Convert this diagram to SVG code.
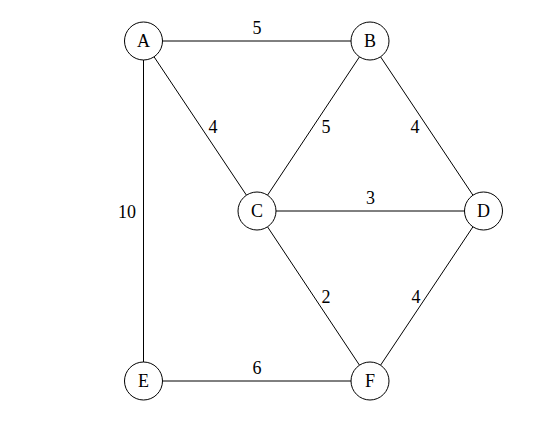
<svg xmlns="http://www.w3.org/2000/svg" width="558" height="424" viewBox="0 0 558 424">
<style>
.edge{stroke:#000;stroke-width:1;fill:none}
.node circle{fill:#fff;stroke:#000;stroke-width:1}
</style>
<rect width="558" height="424" fill="#fff"/>
<g id="connectors">
<line class="edge" x1="143.5" y1="41" x2="370" y2="41"/>
<line class="edge" x1="143.5" y1="41" x2="257" y2="211"/>
<line class="edge" x1="143.5" y1="41" x2="143.5" y2="381"/>
<line class="edge" x1="370" y1="41" x2="257" y2="211"/>
<line class="edge" x1="370" y1="41" x2="483.5" y2="211"/>
<line class="edge" x1="257" y1="211" x2="483.5" y2="211"/>
<line class="edge" x1="257" y1="211" x2="370" y2="381"/>
<line class="edge" x1="483.5" y1="211" x2="370" y2="381"/>
<line class="edge" x1="143.5" y1="381" x2="370" y2="381"/>
</g>
<g font-family="'Liberation Serif', serif" font-size="18" text-anchor="middle" fill="#000">
<g id="labels">
<text x="257" y="34">5</text>
<text x="213" y="133">4</text>
<text x="326" y="133">5</text>
<text x="415" y="133">4</text>
<text x="370.5" y="204">3</text>
<text x="127" y="218">10</text>
<text x="326" y="303">2</text>
<text x="416" y="303">4</text>
<text x="257" y="374">6</text>
</g>
<g id="A" class="node"><circle cx="143.5" cy="41" r="19"/><text x="143.5" y="47">A</text></g>
<g id="B" class="node"><circle cx="370" cy="41" r="19"/><text x="370" y="47">B</text></g>
<g id="C" class="node"><circle cx="257" cy="211" r="19"/><text x="257" y="217">C</text></g>
<g id="D" class="node"><circle cx="483.5" cy="211" r="19"/><text x="483.5" y="217">D</text></g>
<g id="E" class="node"><circle cx="143.5" cy="381" r="19"/><text x="143.5" y="387">E</text></g>
<g id="F" class="node"><circle cx="370" cy="381" r="19"/><text x="370" y="387">F</text></g>
</g>
</svg>
